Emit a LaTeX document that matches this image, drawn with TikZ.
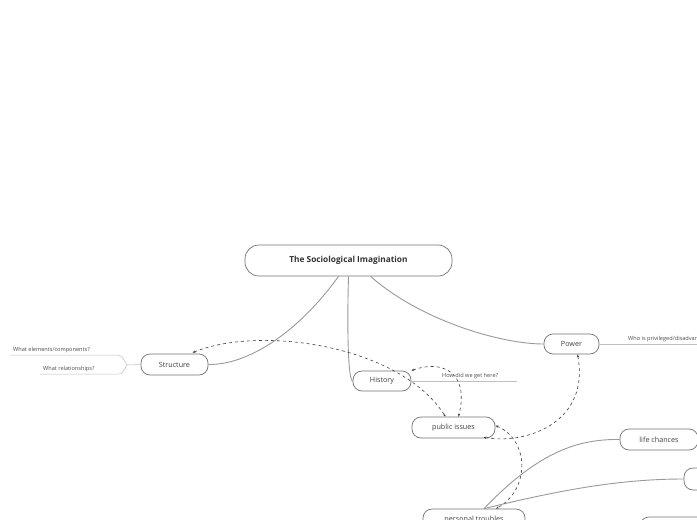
\documentclass[tikz,border=0pt]{standalone}
\usepackage{fontspec}
\setmainfont{Open Sans}
\usetikzlibrary{arrows.meta}
\begin{document}
\begin{tikzpicture}[x=1pt,y=-1pt,
  topic/.style={draw=black!55,rounded corners=9pt,fill=white,inner sep=0pt,font=\fontsize{7.2}{8.5}\selectfont,text=black!75,line width=0.7pt},
  con/.style={draw=black!40,line width=0.9pt},
  thin/.style={draw=black!25,line width=0.5pt},
  rel/.style={draw=black!75,dashed,line width=0.6pt,{Stealth[length=3pt]}-{Stealth[length=3pt]}},
  lbl/.style={font=\fontsize{5.6}{6.5}\selectfont,text=black!70,inner sep=1pt}]
\useasboundingbox (0,0) rectangle (697,520);
\clip (0,0) rectangle (697,520);
\node[topic,minimum width=207pt,minimum height=31pt,rounded corners=14pt,font=\bfseries\fontsize{8.3}{10}\selectfont,text=black!80] (title) at (348.5,260.5) {The Sociological Imagination};
\node[topic,minimum width=67pt,minimum height=21pt] (str) at (174.5,364.5) {Structure};
\node[topic,minimum width=58pt,minimum height=20pt] (his) at (382,381) {History};
\node[topic,minimum width=55pt,minimum height=20pt] (pow) at (571.5,344) {Power};
\node[topic,minimum width=83pt,minimum height=21pt] (pub) at (453.5,427.5) {public issues};
\node[topic,minimum width=78pt,minimum height=21pt] (life) at (659,439.5) {life chances};
\node[topic,minimum width=40pt,minimum height=22pt] (rn) at (704,479) {};
\node[topic,minimum width=102pt,minimum height=22pt] (per) at (474,520) {personal troubles};
\node[topic,minimum width=80pt,minimum height=22pt] (br) at (680,528) {};
% main connectors
\draw[con] (title.south) ++(-10,0) coordinate (t1) (t1) .. controls (300,330) and (250,365) .. (str.east);
\draw[con] (title.south) ++(0,0) coordinate (t2) (t2) .. controls (347,330) and (348,380) .. (his.west);
\draw[con] (title.south) ++(22,0) coordinate (t3) (t3) .. controls (420,320) and (500,344) .. (pow.west);
\draw[con] (per.north) ++(10,0) coordinate (p1) (p1) .. controls (540,450) and (580,439) .. (life.west);
\draw[con] (p1) .. controls (560,490) and (620,479) .. (rn.west);
% sub topics
\coordinate (w1) at (10,355); \coordinate (w1e) at (118,355);
\coordinate (w2) at (40,374); \coordinate (w2e) at (118,374);
\draw[thin] (str.west) -- (127,365) .. controls (122,356) .. (w1e) -- (w1);
\draw[thin] (127,365) .. controls (122,374) .. (w2e) -- (w2);
\node[lbl,anchor=south west] (l1) at (12,354) {What elements/components?};
\node[lbl,anchor=south west] (l2) at (42,373) {What relationships?};
\coordinate (hx) at (517,381);
\draw[thin] (his.east) -- (hx);
\node[lbl,anchor=south west] (l3) at (441,380) {How did we get here?};
\coordinate (px) at (697,344);
\draw[thin] (pow.east) -- (px);
\node[lbl,anchor=south west] (l4) at (627,343) {Who is privileged/disadvantaged?};
% relationships
\draw[rel] (str.north) ++(18,-1) coordinate (s1) (s1) .. controls (260,325) and (400,345) .. ([xshift=-8pt]pub.north);
\draw[rel] (his.north east) .. controls (440,360) and (470,370) .. ([xshift=5pt]pub.north);
\draw[rel] ([xshift=6pt]pow.south) .. controls (590,420) and (530,445) .. ([xshift=30pt,yshift=1pt]pub.south);
\draw[rel] ([yshift=2pt]pub.east) .. controls (530,440) and (530,490) .. ([xshift=22pt]per.north);
\end{tikzpicture}
\end{document}
